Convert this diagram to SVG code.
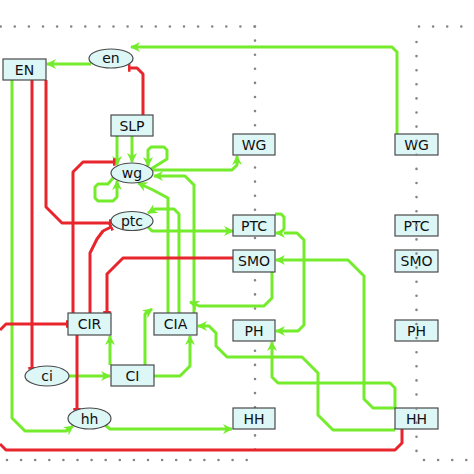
<svg xmlns="http://www.w3.org/2000/svg" width="474" height="474" viewBox="0 0 474 474">
<style>
.n{fill:#ddf6f6;stroke:#4a4a4a;stroke-width:1.2}
.t{font-family:"DejaVu Sans",sans-serif;font-size:14px;fill:#111;text-anchor:middle}
.g{fill:none;stroke:#74ec2c;stroke-width:3;stroke-linejoin:round;marker-end:url(#ah)}
.r{fill:none;stroke:#e8242c;stroke-width:3;stroke-linejoin:round;marker-end:url(#bar)}
.d{fill:none;stroke:#858585;stroke-width:2.6;stroke-linecap:round;stroke-dasharray:0 14.1}
</style>
<defs>
<marker id="ah" viewBox="0 0 10 10" refX="9" refY="5" markerWidth="10" markerHeight="10" markerUnits="userSpaceOnUse" orient="auto">
<path d="M0,0 L10,5 L0,10 L3,5 z" fill="#74ec2c"/>
</marker>
<marker id="bar" viewBox="0 0 4 10" refX="2" refY="5" markerWidth="3" markerHeight="8" markerUnits="userSpaceOnUse" orient="auto">
<rect x="0" y="0" width="4" height="10" fill="#e8242c"/>
</marker>
</defs>
<rect width="474" height="474" fill="#fff"/>
<g id="grid">
<line class="d" x1="254.5" y1="26.5" x2="0" y2="26.5"/>
<line class="d" x1="419" y1="26.5" x2="474" y2="26.5"/>
<line class="d" x1="255" y1="26.5" x2="255" y2="458"/>
<line class="d" x1="7" y1="460" x2="250" y2="460"/>
<line class="d" x1="424" y1="460" x2="474" y2="460"/>
</g>
<g id="connectors">
<path class="g" d="M397,134 L397,52 L392,47 L131,47"/>
<path class="g" d="M91,64 L47,64"/>
<path class="g" d="M117,136 L117,165"/>
<path class="g" d="M132,136 L132,162"/>
<path class="g" d="M151,169 L167,159 L167,150 L164,147 L151,147 L148,150 L148,166"/>
<path class="g" d="M113,178 L108,184 L98,184 L95,187 L95,198 L98,201 L113,201 L117,197 L117,181"/>
<path class="g" d="M153,170 L232,170 L237,165 L237,156"/>
<path class="g" d="M194,313 L194,185 L185,176 L154,176"/>
<path class="g" d="M168,313 L168,198 L153,190 L138,183"/>
<path class="g" d="M179,313 L179,214 L174,209 L155,209 L148,213"/>
<path class="g" d="M148,227 L152,231 L233,231"/>
<path class="g" d="M275,214 L281,214 L284,217 L284,229 L280,233 L276,233"/>
<path class="g" d="M284,233 L297,233 L304,240 L304,325 L298,331 L276,331"/>
<path class="g" d="M272,272 L272,298 L264,306 L199,306 L190,302"/>
<path class="g" d="M154,376 L180,376 L190,366 L190,336"/>
<path class="g" d="M145,365 L145,314 L152,309"/>
<path class="g" d="M110,365 L110,336"/>
<path class="g" d="M69,376 L110,376"/>
<path class="g" d="M12,80 L12,418 L25,431 L66,431 L73,426"/>
<path class="g" d="M105,425 L110,429 L232,429"/>
<path class="g" d="M395,408 L373,408 L364,399 L364,276 L348,260 L276,260"/>
<path class="g" d="M395,408 L395,388 L390,383 L278,383 L272,377 L272,342"/>
<path class="g" d="M395,430 L333,430 L318,415 L318,373 L302,357 L227,357 L216,346 L216,333 L209,326 L198,326"/>
<path class="r" d="M143,115 L143,74 L137,68 L129,68"/>
<path class="r" d="M32,80 L32,368"/>
<path class="r" d="M46,80 L46,207 L62,223 L110,223"/>
<path class="r" d="M73,313 L73,172 L83,162 L114,162"/>
<path class="r" d="M90,313 L90,253 L97,239 L103,231 L111,227"/>
<path class="r" d="M233,258 L123,258 L107,274 L107,312"/>
<path class="r" d="M77,335 L77,409"/>
<path class="r" d="M402,429 L402,443 L395,450 L6,450 L0,444 M0,330 L6,324 L67,324"/>
</g>
<g id="EN"><rect class="n" x="3" y="59" width="43" height="21"/><text class="t" x="24.5" y="75">EN</text></g>
<g id="en"><ellipse class="n" cx="111" cy="58.5" rx="22" ry="9.5"/><text class="t" x="111" y="63">en</text></g>
<g id="SLP"><rect class="n" x="111" y="115" width="42" height="21"/><text class="t" x="132" y="130.5">SLP</text></g>
<g id="wg"><ellipse class="n" cx="132" cy="173" rx="21" ry="10"/><text class="t" x="132" y="177.5">wg</text></g>
<g id="ptc"><ellipse class="n" cx="132" cy="221" rx="21" ry="9.5"/><text class="t" x="132" y="225.5">ptc</text></g>
<g id="CIR"><rect class="n" x="68" y="313" width="43" height="22"/><text class="t" x="89.5" y="329">CIR</text></g>
<g id="CIA"><rect class="n" x="154" y="313" width="43" height="22"/><text class="t" x="175.5" y="329">CIA</text></g>
<g id="CI"><rect class="n" x="111" y="365" width="43" height="21"/><text class="t" x="132.5" y="380.5">CI</text></g>
<g id="ci"><ellipse class="n" cx="47" cy="376" rx="22" ry="10"/><text class="t" x="47" y="380.5">ci</text></g>
<g id="hh"><ellipse class="n" cx="89.5" cy="418.5" rx="21.5" ry="10.5"/><text class="t" x="89.5" y="423.5">hh</text></g>
<g id="WG2"><rect class="n" x="233" y="134" width="42" height="21"/><text class="t" x="254" y="150">WG</text></g>
<g id="PTC2"><rect class="n" x="233" y="215" width="42" height="21"/><text class="t" x="254" y="231">PTC</text></g>
<g id="SMO2"><rect class="n" x="233" y="250" width="42" height="22"/><text class="t" x="254" y="266">SMO</text></g>
<g id="PH2"><rect class="n" x="233" y="320" width="42" height="21"/><text class="t" x="254" y="336">PH</text></g>
<g id="HH2"><rect class="n" x="233" y="408" width="42" height="21"/><text class="t" x="254" y="424">HH</text></g>
<g id="WG3"><rect class="n" x="395" y="134" width="43" height="21"/><text class="t" x="416.5" y="150">WG</text></g>
<g id="PTC3"><rect class="n" x="395" y="215" width="43" height="21"/><text class="t" x="416.5" y="231">PTC</text></g>
<g id="SMO3"><rect class="n" x="395" y="250" width="43" height="22"/><text class="t" x="416.5" y="266">SMO</text></g>
<g id="PH3"><rect class="n" x="395" y="320" width="43" height="21"/><text class="t" x="416.5" y="336">PH</text></g>
<g id="HH3"><rect class="n" x="395" y="408" width="43" height="21"/><text class="t" x="416.5" y="424">HH</text></g>
<g id="grid2"><line class="d" x1="416.5" y1="42" x2="416.5" y2="456"/></g>
</svg>
